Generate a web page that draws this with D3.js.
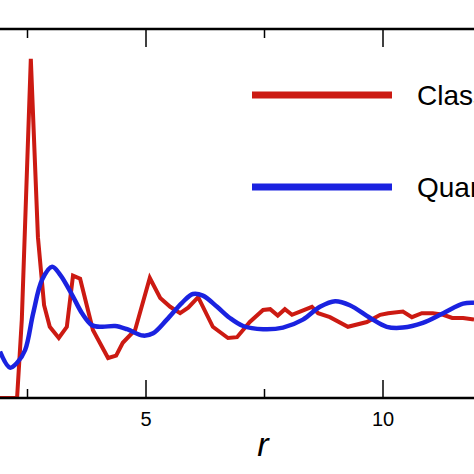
<!DOCTYPE html>
<html><head><meta charset="utf-8">
<script src="https://cdn.jsdelivr.net/npm/d3@7"></script>
<style>body{margin:0;background:#fff}svg{display:block}</style>
</head><body><svg width="474" height="474"></svg>
<script>
const seriesNames = ['Classical', 'Quantum']
const colors = ['#cc1a12', '#1a22e0']
const rRed = [1.92,2.28,2.38,2.57,2.72,2.85,2.97,3.16,3.33,3.46,3.61,3.88,4.20,4.37,4.51,4.77,5.08,5.30,5.51,5.72,5.89,6.10,6.41,6.73,6.92,7.19,7.47,7.62,7.78,7.93,8.08,8.25,8.50,8.63,8.88,9.26,9.66,9.94,10.11,10.42,10.61,10.82,11.05,11.27,11.46,11.69,11.92]
const gRed = [0,0,0.98,4.24,2.01,1.16,0.89,0.75,0.89,1.53,1.49,0.85,0.50,0.53,0.69,0.85,1.50,1.25,1.14,1.06,1.13,1.26,0.89,0.75,0.76,0.95,1.10,1.11,1.03,1.11,1.04,1.08,1.14,1.06,1.01,0.89,0.95,1.04,1.06,1.08,1.01,1.06,1.06,1.04,1.00,1.00,0.98]
const rBlue = [1.92,2.13,2.28,2.45,2.62,2.81,3.02,3.19,3.44,3.65,3.86,4.07,4.35,4.60,4.94,5.15,5.44,5.76,5.99,6.20,6.50,6.77,7.05,7.47,7.89,8.31,8.67,8.99,9.30,9.73,10.08,10.42,10.84,11.27,11.69,11.92]
const gBlue = [0.58,0.38,0.44,0.60,1.06,1.48,1.64,1.54,1.29,1.06,0.91,0.89,0.90,0.86,0.78,0.81,0.98,1.19,1.30,1.28,1.14,1.00,0.90,0.86,0.88,0.98,1.14,1.21,1.16,1.00,0.89,0.88,0.94,1.06,1.18,1.19]
const majorTicks = [5, 10]
const minorTicks = [2.5, 7.5]

const svg = d3.select('svg')
const x = d3.scaleLinear().domain([0, 10]).range([-91, 383])
const y = d3.scaleLinear().domain([0, 1]).range([398, 318])
const yTop = 29, yBot = 398

svg.append('clipPath').attr('id', 'clip').append('rect')
  .attr('x', 0).attr('y', yTop).attr('width', 474).attr('height', yBot - yTop)

const line = d3.line().x(d => x(d[0])).y(d => y(d[1]))
const plot = svg.append('g').attr('clip-path', 'url(#clip)')
plot.append('path').datum(d3.zip(rRed, gRed))
  .attr('d', line).attr('fill', 'none').attr('stroke', colors[0])
  .attr('stroke-width', 4).attr('stroke-linejoin', 'miter')
plot.append('path').datum(d3.zip(rBlue, gBlue))
  .attr('d', line.curve(d3.curveCatmullRom)).attr('fill', 'none').attr('stroke', colors[1])
  .attr('stroke-width', 4.5)

// frame lines with inward ticks
const ax = svg.append('g').attr('stroke', '#000')
ax.append('line').attr('x1', 0).attr('x2', 474).attr('y1', yTop).attr('y2', yTop).attr('stroke-width', 2.5)
ax.append('line').attr('x1', 0).attr('x2', 474).attr('y1', yBot).attr('y2', yBot).attr('stroke-width', 2.5)
majorTicks.forEach(t => {
  ax.append('line').attr('x1', x(t)).attr('x2', x(t)).attr('y1', yBot).attr('y2', yBot - 18).attr('stroke-width', 1.5)
  ax.append('line').attr('x1', x(t)).attr('x2', x(t)).attr('y1', yTop).attr('y2', yTop + 18).attr('stroke-width', 1.5)
})
minorTicks.forEach(t => {
  ax.append('line').attr('x1', x(t)).attr('x2', x(t)).attr('y1', yBot).attr('y2', yBot - 9).attr('stroke-width', 1.5)
  ax.append('line').attr('x1', x(t)).attr('x2', x(t)).attr('y1', yTop).attr('y2', yTop + 9).attr('stroke-width', 1.5)
})
svg.selectAll('.tl').data(majorTicks).enter().append('text')
  .attr('x', d => x(d)).attr('y', 426).attr('text-anchor', 'middle')
  .style('font', '20px "Liberation Sans", Arial, sans-serif').text(d => d)
svg.append('text').attr('x', 263).attr('y', 456).attr('text-anchor', 'middle')
  .style('font', 'italic 34px "Liberation Sans", Arial, sans-serif').text('r')

// legend
const legY = [95, 187]
seriesNames.forEach((n, i) => {
  svg.append('line').attr('x1', 252).attr('x2', 392).attr('y1', legY[i]).attr('y2', legY[i])
    .attr('stroke', colors[i]).attr('stroke-width', 7)
  svg.append('text').attr('x', 417).attr('y', legY[i] + 10)
    .style('font', '28px "Liberation Sans", Arial, sans-serif').text(n)
})
</script></body></html>
